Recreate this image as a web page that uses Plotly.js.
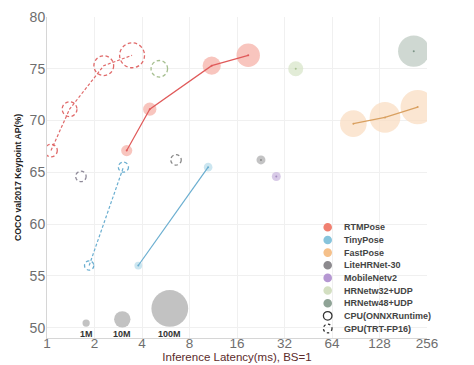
<!DOCTYPE html>
<html>
<head>
<meta charset="utf-8">
<script src="https://cdn.plot.ly/plotly-3.0.1.min.js"></script>
<style>html,body{margin:0;padding:0;background:#fff;}#chart{width:474px;height:365px;}</style>
</head>
<body>
<div id="chart"></div>
<script>
// ---------------- data ----------------
const modelNames = ['RTMPose','TinyPose','FastPose','LiteHRNet-30','MobileNetv2','HRNetw32+UDP','HRNetw48+UDP'];

// RTMPose
const rtmCpuLatency = [3.2, 4.48, 11.06, 18.85];
const rtmGpuLatency = [1.06, 1.39, 2.29, 3.46];
const rtmAP = [67.1, 71.1, 75.3, 76.3];
const rtmParams = [3.3, 5.5, 13.6, 27.7];
// TinyPose
const tinyCpuLatency = [3.79, 10.5];
const tinyGpuLatency = [1.85, 3.05];
const tinyAP = [56.0, 65.5];
const tinyParams = [1.2, 1.6];
// FastPose (CPU only)
const fastCpuLatency = [87.4, 138.7, 223.5];
const fastAP = [69.7, 70.3, 71.3];
const fastParams = [40, 60, 82];
// LiteHRNet-30
const liteCpuLatency = [22.7];
const liteGpuLatency = [6.57];
const liteAP = [66.2];
const liteParams = [1.8];
// MobileNetv2
const mobileCpuLatency = [28.4];
const mobileGpuLatency = [1.64];
const mobileAP = [64.6];
const mobileParams = [1.8];
// HRNetw32+UDP
const hr32CpuLatency = [37.7];
const hr32GpuLatency = [5.15];
const hr32AP = [75.0];
const hr32Params = [7.8];
// HRNetw48+UDP (CPU only)
const hr48CpuLatency = [211];
const hr48AP = [76.7];
const hr48Params = [63.6];

// size key
const keyLabels = ['1M','10M','100M'];
const keyParams = [1, 10, 100];
const keyLatency = [1.77, 3.0, 6.0];
const keyAP = [50.44, 50.8, 51.85];
const keyLabelAP = 49.41;

const xTickVals = [1,2,4,8,16,32,64,128,256];
const yTickVals = [50,55,60,65,70,75,80];
const deviceNames = ['CPU(ONNXRuntime)','GPU(TRT-FP16)'];

// ---------------- styles ----------------
const legendColors = ['#f08070','#87c4dc','#f5c08a','#8c8a8e','#b597d2','#d3dfc1','#8fa396'];
const bubbleColors = ['#f5aca2','#b7dcea','#f9dcbf','#a9a9ab','#c8b3dd','#d6e4c6','#bac7bf'];
const lineColors   = ['#e05a5a','#6aaed0','#d9a060','#8a8a8a','#a58cc0','#a9c293','#7d9688'];
const gpuColors    = ['#e06a6a','#6aaed0','#d9a060','#888888','#8f8a99','#a6bf90','#6f8a7a'];

function diam(p){ return 7.3*Math.pow(p, 0.351); }

const series = [
  {i:0, cpu:rtmCpuLatency, gpu:rtmGpuLatency, ap:rtmAP, params:rtmParams, line:true},
  {i:1, cpu:tinyCpuLatency, gpu:tinyGpuLatency, ap:tinyAP, params:tinyParams, line:true},
  {i:2, cpu:fastCpuLatency, gpu:null, ap:fastAP, params:fastParams, line:true},
  {i:3, cpu:liteCpuLatency, gpu:liteGpuLatency, ap:liteAP, params:liteParams, line:false},
  {i:4, cpu:mobileCpuLatency, gpu:mobileGpuLatency, ap:mobileAP, params:mobileParams, line:false},
  {i:5, cpu:hr32CpuLatency, gpu:hr32GpuLatency, ap:hr32AP, params:hr32Params, line:false},
  {i:6, cpu:hr48CpuLatency, gpu:null, ap:hr48AP, params:hr48Params, line:false}
];

const traces = [];
const shapes = [];
// bubbles
series.forEach(s => {
  traces.push({
    type:'scatter', mode:'markers', x:s.cpu, y:s.ap, name:modelNames[s.i], showlegend:false,
    hoverinfo:'x+y+name',
    marker:{size:s.params.map(diam), color:bubbleColors[s.i], line:{width:0}}
  });
});
// lines and small centre dots
series.forEach(s => {
  traces.push({
    type:'scatter', mode: s.line ? 'lines+markers' : 'markers', x:s.cpu, y:s.ap, showlegend:false, hoverinfo:'skip',
    line:{color:lineColors[s.i], width:1.2},
    marker:{size:2, color:lineColors[s.i]}
  });
  if (s.gpu && s.line) {
    traces.push({
      type:'scatter', mode:'lines', x:s.gpu, y:s.ap, showlegend:false, hoverinfo:'skip',
      line:{color:gpuColors[s.i], width:1.2, dash:'3px,2px'}
    });
  }
  if (s.gpu) {
    // dashed GPU circles, placed on a hidden linear axis that carries log10(latency)
    s.gpu.forEach((g, k) => {
      const r = (diam(s.params[k]) + 1.5) / 2;
      shapes.push({type:'circle', xref:'x2', yref:'y', xsizemode:'pixel', ysizemode:'pixel',
        xanchor:Math.log10(g), yanchor:s.ap[k], x0:-r, x1:r, y0:-r, y1:r,
        line:{color:gpuColors[s.i], width:1.3, dash:'3.5px,2.5px'}, fillcolor:'rgba(0,0,0,0)', layer:'above'});
    });
  }
});
// size key
traces.push({
  type:'scatter', mode:'markers', x:keyLatency, y:keyAP, showlegend:false, hoverinfo:'skip',
  marker:{size:keyParams.map(diam), color:'#a8a8a8', line:{width:0}}
});
// anchor trace for the hidden helper axis
traces.push({type:'scatter', mode:'markers', x:[0], y:[60], xaxis:'x2', yaxis:'y', showlegend:false,
  hoverinfo:'skip', marker:{size:1, opacity:0}});

const annotations = keyLabels.map((t, k) => ({
  xref:'x', yref:'y', x:Math.log10(keyLatency[k]), y:keyLabelAP, text:t, showarrow:false,
  xanchor:'center', yanchor:'middle', font:{family:'Liberation Sans, Arial, sans-serif', size:9, color:'#333', weight:'bold'}
}));

// custom legend
const plotL = 47, plotR = 427, plotT = 17, plotB = 338;
const legSymX = 327.7, legTextX = 342.3, legY0 = 227.3, legDy = 12.65;
const legendLabels = modelNames.concat(deviceNames);
legendLabels.forEach((lab, k) => {
  const py = legY0 + k*legDy;
  const yp = (plotB - py)/(plotB - plotT);
  const xs = (legSymX - plotL)/(plotR - plotL);
  const xt = (legTextX - plotL)/(plotR - plotL);
  annotations.push({xref:'paper', yref:'paper', x:xt, y:yp, text:lab, showarrow:false,
    xanchor:'left', yanchor:'middle', font:{family:'Liberation Sans, Arial, sans-serif', size:9, color:'#444', weight:'bold'}});
  const r = 4.3;
  const sh = {type:'circle', xref:'paper', yref:'paper', xsizemode:'pixel', ysizemode:'pixel',
    xanchor:xs, yanchor:yp, x0:-r, x1:r, y0:-r, y1:r, layer:'above'};
  if (k < modelNames.length) {
    sh.fillcolor = legendColors[k]; sh.line = {width:0};
  } else if (k === modelNames.length) {
    sh.fillcolor = 'rgba(0,0,0,0)'; sh.line = {color:'#333', width:1.3};
  } else {
    sh.fillcolor = 'rgba(0,0,0,0)'; sh.line = {color:'#333', width:1.3, dash:'2.5px,2.5px'};
  }
  shapes.push(sh);
});

const layout = {
  width:474, height:365,
  margin:{l:plotL, r:474-plotR, t:plotT, b:365-plotB, pad:0},
  paper_bgcolor:'#fff', plot_bgcolor:'#fff',
  showlegend:false,
  font:{family:'Liberation Sans, Arial, sans-serif'},
  xaxis:{
    type:'log', range:[0, Math.log10(256)], tickvals:xTickVals, ticktext:xTickVals.map(String),
    showgrid:true, gridcolor:'#f0f0f0', gridwidth:1, zeroline:false,
    showline:true, linecolor:'#d6d6d6', linewidth:1, ticks:'', ticklabelstandoff:-7,
    tickfont:{size:13.5, color:'#6e6e6e'},
    title:{text:'Inference Latency(ms), BS=1', font:{size:11.5, color:'#5c2b2b'}, standoff:0}
  },
  xaxis2:{
    type:'linear', overlaying:'x', range:[0, Math.log10(256)], visible:false, fixedrange:true
  },
  yaxis:{
    range:[49, 80], tickvals:yTickVals,
    showgrid:true, gridcolor:'#f0f0f0', gridwidth:1, zeroline:false,
    showline:true, linecolor:'#d6d6d6', linewidth:1, ticks:'', ticklabelstandoff:-2,
    tickfont:{size:14, color:'#6e6e6e'},
    title:{text:'COCO val2017 Keypoint AP(%)', font:{size:8.7, color:'#222', weight:'bold'}, standoff:6}
  },
  shapes:shapes,
  annotations:annotations
};

Plotly.newPlot('chart', traces, layout, {displayModeBar:false, staticPlot:true});
</script>
</body>
</html>
